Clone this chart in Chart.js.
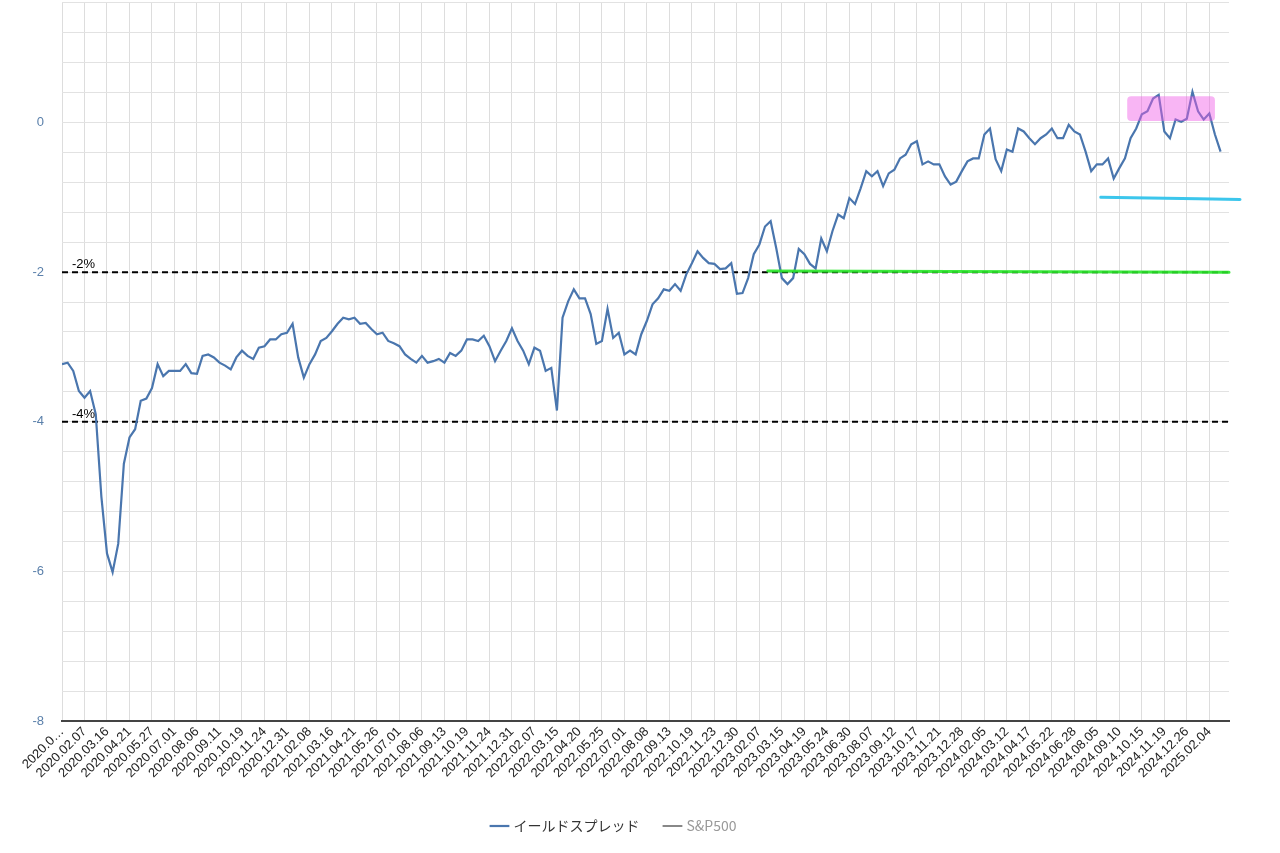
<!DOCTYPE html>
<html><head><meta charset="utf-8">
<script src="https://cdn.jsdelivr.net/npm/chart.js@4"></script>
<style>html,body{margin:0;padding:0;background:#fff;overflow:hidden;height:853px}#w{width:1280px;height:876px;margin-top:-23px}</style>
</head><body><div id="w"><canvas id="c"></canvas></div>
<script>
const tickLabels=["2020.0…","2020.02.07","2020.03.16","2020.04.21","2020.05.27","2020.07.01","2020.08.06","2020.09.11","2020.10.19","2020.11.24","2020.12.31","2021.02.08","2021.03.16","2021.04.21","2021.05.26","2021.07.01","2021.08.06","2021.09.13","2021.10.19","2021.11.24","2021.12.31","2022.02.07","2022.03.15","2022.04.20","2022.05.25","2022.07.01","2022.08.08","2022.09.13","2022.10.19","2022.11.23","2022.12.30","2023.02.07","2023.03.15","2023.04.19","2023.05.24","2023.06.30","2023.08.07","2023.09.12","2023.10.17","2023.11.21","2023.12.28","2024.02.05","2024.03.12","2024.04.17","2024.05.22","2024.06.28","2024.08.05","2024.09.10","2024.10.15","2024.11.19","2024.12.26","2025.02.04"];
const spreadValues=[-3.23,-3.21,-3.32,-3.59,-3.68,-3.59,-3.9,-5.0,-5.76,-6.01,-5.63,-4.56,-4.21,-4.1,-3.72,-3.69,-3.55,-3.23,-3.39,-3.32,-3.32,-3.32,-3.23,-3.35,-3.36,-3.12,-3.1,-3.14,-3.21,-3.25,-3.3,-3.14,-3.05,-3.12,-3.16,-3.01,-2.99,-2.9,-2.9,-2.83,-2.81,-2.69,-3.14,-3.41,-3.23,-3.1,-2.92,-2.88,-2.79,-2.69,-2.61,-2.63,
-2.61,-2.69,-2.68,-2.76,-2.83,-2.81,-2.92,-2.95,-2.99,-3.1,-3.16,-3.21,-3.12,-3.21,-3.19,-3.16,-3.21,-3.08,-3.12,-3.05,-2.9,-2.9,-2.92,-2.85,-2.99,-3.19,-3.05,-2.92,-2.75,-2.92,-3.05,-3.23,-3.01,-3.05,-3.32,-3.28,-3.85,-2.61,-2.39,-2.23,-2.35,-2.35,-2.56,-2.96,-2.92,-2.49,-2.88,-2.81,-3.1,-3.05,-3.1,-2.83,-2.65,-2.43,-2.35,-2.23,-2.25,-2.16,-2.25,-2.03,-1.88,
-1.72,-1.81,-1.88,-1.89,-1.96,-1.95,-1.88,-2.29,-2.28,-2.08,-1.76,-1.63,-1.39,-1.32,-1.68,-2.08,-2.16,-2.08,-1.69,-1.76,-1.89,-1.95,-1.55,-1.72,-1.45,-1.23,-1.28,-1.01,-1.09,-0.88,-0.65,-0.72,-0.65,-0.85,-0.68,-0.63,-0.48,-0.43,-0.29,-0.25,-0.56,-0.52,-0.56,-0.56,-0.72,-0.83,-0.79,-0.65,-0.52,-0.48,-0.48,-0.16,-0.08,-0.49,-0.65,-0.36,-0.39,
-0.08,-0.12,-0.21,-0.29,-0.21,-0.16,-0.08,-0.21,-0.21,-0.03,-0.12,-0.16,-0.39,-0.65,-0.56,-0.56,-0.48,-0.75,-0.61,-0.48,-0.21,-0.08,0.11,0.15,0.32,0.37,-0.12,-0.21,0.04,0.01,0.05,0.41,0.15,0.04,0.12,-0.16,-0.39];
const refLevels=[-2,-4];
const ptsPerTick=4;
const xMax=207.5;

const spreadData=spreadValues.map((v,i)=>({x:i,y:v}));
const refData=l=>[{x:0,y:l},{x:xMax,y:l}];

const overlay={id:'overlay',afterDatasetsDraw(ch){
  const {ctx,scales:{x,y},chartArea:a}=ch;
  ctx.save();
  ctx.fillStyle='#000';ctx.font='13px "Liberation Sans",Arial,sans-serif';ctx.textBaseline='bottom';
  refLevels.forEach(l=>ctx.fillText(l+'%',a.left+10,y.getPixelForValue(l)-1));
  ctx.strokeStyle='rgba(40,230,40,0.9)';ctx.lineWidth=3;ctx.lineCap='round';
  ctx.beginPath();ctx.moveTo(x.getPixelForValue(125.5),y.getPixelForValue(-1.985));ctx.lineTo(a.right,y.getPixelForValue(-2.0));ctx.stroke();
  ctx.strokeStyle='rgba(50,195,235,0.95)';ctx.lineWidth=3;
  ctx.beginPath();ctx.moveTo(x.getPixelForValue(184.7),y.getPixelForValue(-1.0));ctx.lineTo(x.getPixelForValue(202),y.getPixelForValue(-1.02));ctx.lineTo(a.right+11,y.getPixelForValue(-1.03));ctx.stroke();
  ctx.fillStyle='rgba(240,90,230,0.45)';
  const x0=x.getPixelForValue(189.4),x1=x.getPixelForValue(205),y0=y.getPixelForValue(0.35),y1=y.getPixelForValue(0.02);
  ctx.beginPath();ctx.roundRect(x0,y0,x1-x0,y1-y0,4);ctx.fill();
  ctx.restore();
}};

new Chart(document.getElementById('c'),{
  type:'line',
  data:{datasets:[
    {label:'イールドスプレッド',data:spreadData,borderColor:'#4a76ae',backgroundColor:'#4a76ae',borderWidth:2.2,pointRadius:0,tension:0},
    {label:'S&P500',data:[],borderColor:'#888',backgroundColor:'#888',borderWidth:2,pointRadius:0},
    {label:'-2',data:refData(-2),borderColor:'#000',borderWidth:2,borderDash:[6,4],pointRadius:0},
    {label:'-4',data:refData(-4),borderColor:'#000',borderWidth:2,borderDash:[6,4],pointRadius:0}
  ]},
  options:{responsive:true,maintainAspectRatio:false,animation:false,
    layout:{padding:{left:0,right:51,top:0,bottom:10}},
    plugins:{tooltip:{enabled:false},
      legend:{position:'bottom',labels:{usePointStyle:true,pointStyle:'line',boxWidth:22,padding:26,font:{size:14,family:'"Noto Sans CJK JP","Liberation Sans",sans-serif'},
        filter:it=>it.datasetIndex<2,
        generateLabels(ch){const d=Chart.defaults.plugins.legend.labels.generateLabels(ch);d.forEach(o=>{o.fontColor=o.datasetIndex===0?'#333':'#999';});return d;}}}},
    scales:{
      x:{type:'linear',min:0,max:xMax,
        afterBuildTicks(s){s.ticks=tickLabels.map((_,i)=>({value:i*ptsPerTick}));},
        afterFit(s){s.height=72;},
        ticks:{autoSkip:false,maxRotation:45,minRotation:45,color:'#222',font:{size:13,family:'"Liberation Sans",Arial,sans-serif'},
          callback:v=>tickLabels[Math.round(v/ptsPerTick)]},
        grid:{color:'#ddd',drawTicks:false},border:{color:'#444',width:2}},
      y:{min:-8,max:1.6,
        afterBuildTicks(s){const t=[];for(let i=0;i<=24;i++)t.push({value:-8+i*0.4});s.ticks=t;},
        afterFit(s){s.width=62;},
        ticks:{color:'#5b80ab',font:{size:13,family:'"Liberation Sans",Arial,sans-serif'},padding:18,
          callback:v=>{const r=Math.round(v*10)/10;return (Math.abs(r%2)<1e-6)?String(r):'';}},
        grid:{color:'#e2e2e2',drawTicks:false},border:{display:false}}
    }},
  plugins:[overlay]
});
</script></body></html>
